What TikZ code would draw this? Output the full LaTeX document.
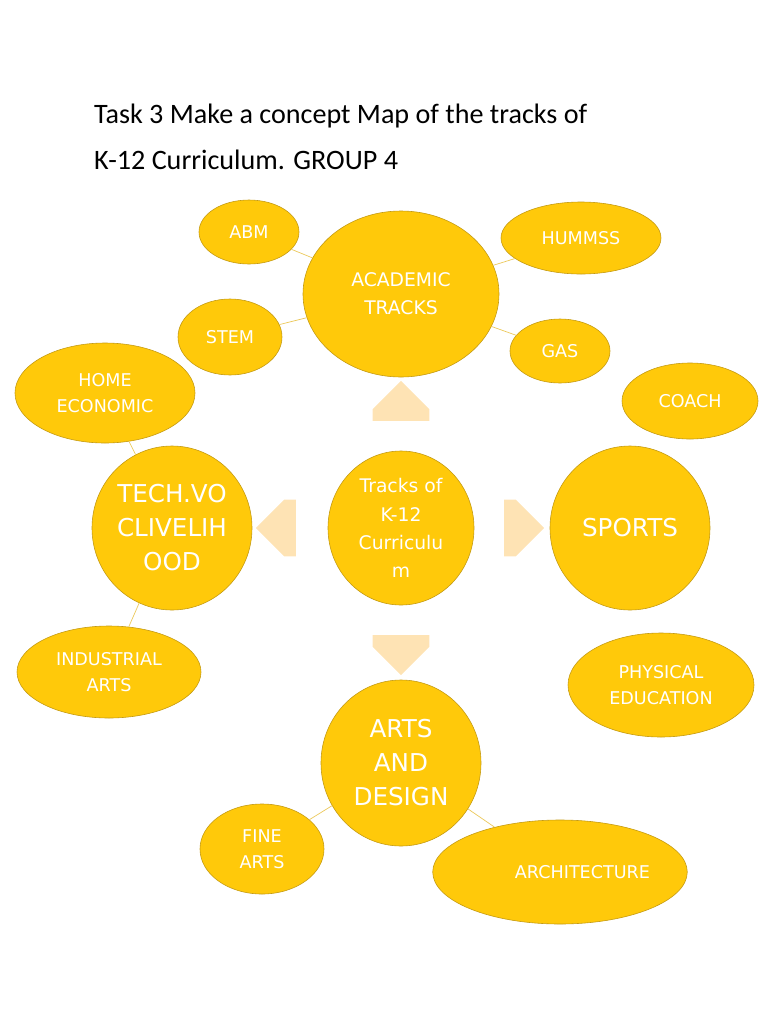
\documentclass[tikz,border=0pt]{standalone}
\usepackage{fontspec}
\setmainfont{DejaVu Sans}
\newfontfamily\titlefont{Carlito}
\usetikzlibrary{shapes.geometric,shapes.arrows}
\definecolor{mapyellow}{HTML}{FFC90A}
\definecolor{mapedge}{HTML}{C49A12}
\definecolor{arrowpeach}{HTML}{FEE3B4}
\definecolor{linkcol}{HTML}{EBC85A}
\begin{document}
\begin{tikzpicture}[
        x=0.03cm, y=-0.03cm,
        % bubble styles
        bubble/.style={
            ellipse,
            fill=mapyellow,
            draw=mapedge,
            line width=0.5pt,
            inner sep=0pt,
            text=white,
            align=center,
            font=\fontsize{15}{22}\selectfont
        },
        bigbubble/.style={
            bubble,
            font=\fontsize{21}{29}\selectfont
        },
        link/.style={
            linkcol, line width=0.6pt
        },
        blockarrow/.style={
            single arrow,
            fill=arrowpeach,
            draw=none,
            minimum width=1.7cm,
            minimum height=1.2cm,
            single arrow head extend=0pt,
            single arrow tip angle=90,
            inner sep=0pt
        }
    ]
        \useasboundingbox (0,0) rectangle (768,1024);

        % --- title ---
        \node[anchor=west, align=left, font=\titlefont\fontsize{24}{39}\selectfont] (title) at (90,137)
            {Task 3 Make a concept Map of the tracks of\\K-12 Curriculum. GROUP 4};

        % --- main bubbles ---
        \node[bubble, minimum width=196\pgflinewidth*0+5.88cm, minimum height=4.98cm, font=\fontsize{16}{24}\selectfont] (academic) at (401,294) {ACADEMIC\\TRACKS};
        \node[bubble, minimum width=4.38cm, minimum height=4.62cm, font=\fontsize{16}{24}\selectfont] (center) at (401,528) {Tracks of\\K-12\\Curriculu\\m};
        \node[bigbubble, minimum width=4.8cm, minimum height=4.92cm] (tech) at (172,528) {TECH.VO\\CLIVELIH\\OOD};
        \node[bigbubble, minimum width=4.8cm, minimum height=4.92cm] (sports) at (630,528) {SPORTS};
        \node[bigbubble, minimum width=4.8cm, minimum height=4.98cm] (arts) at (401,763) {ARTS\\AND\\DESIGN};

        % --- small bubbles ---
        \node[bubble, minimum width=3cm, minimum height=1.92cm] (abm) at (249,232) {ABM};
        \node[bubble, minimum width=4.8cm, minimum height=2.16cm] (humss) at (581,238) {HUMMSS};
        \node[bubble, minimum width=3.12cm, minimum height=2.28cm] (stem) at (230,337) {STEM};
        \node[bubble, minimum width=3cm, minimum height=1.92cm] (gas) at (560,351) {GAS};
        \node[bubble, minimum width=5.4cm, minimum height=3cm] (home) at (105,393) {HOME\\ECONOMIC};
        \node[bubble, minimum width=4.08cm, minimum height=2.28cm] (coach) at (690,401) {COACH};
        \node[bubble, minimum width=5.52cm, minimum height=2.76cm] (industrial) at (109,672) {INDUSTRIAL\\ARTS};
        \node[bubble, minimum width=5.58cm, minimum height=3.12cm] (physical) at (661,685) {PHYSICAL\\EDUCATION};
        \node[bubble, minimum width=3.72cm, minimum height=2.7cm] (fine) at (262,849) {FINE\\ARTS};
        \node[bubble, minimum width=6.84cm, minimum height=3.12cm, text width=5.4cm, align=right] (architecture) at (560,872) {ARCHITECTURE};

        % --- links ---
        \draw[link] (abm) -- (academic);
        \draw[link] (humss) -- (academic);
        \draw[link] (stem) -- (academic);
        \draw[link] (gas) -- (academic);
        \draw[link] (home) -- (tech);
        \draw[link] (industrial) -- (tech);
        \draw[link] (fine) -- (arts);
        \draw[link] (architecture) -- (arts);

        % --- block arrows ---
        \node[blockarrow, shape border rotate=90] (up) at (401,415) {};
        \node[blockarrow, shape border rotate=180] (left) at (290,528) {};
        \node[blockarrow] (right) at (510,528) {};
        \node[blockarrow, shape border rotate=270] (down) at (401,641) {};
    \end{tikzpicture}
\end{document}
